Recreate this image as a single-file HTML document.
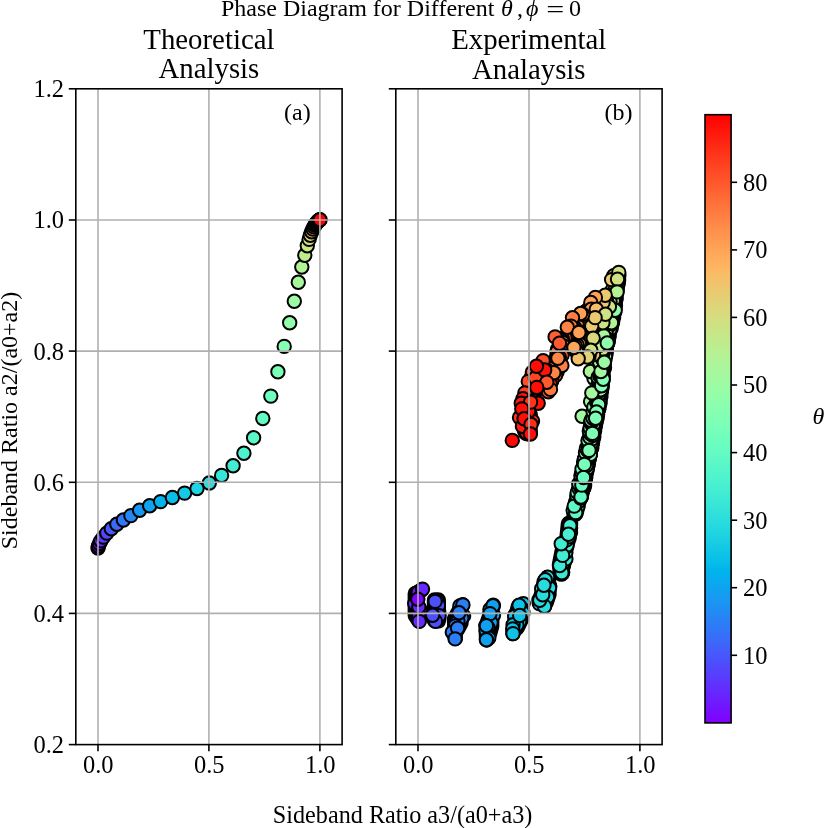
<!DOCTYPE html>
<html><head><meta charset="utf-8"><title>Phase Diagram</title>
<style>
html,body{margin:0;padding:0;background:#fff;}
body{width:825px;height:828px;overflow:hidden;}
svg{display:block;font-family:"Liberation Serif","DejaVu Serif",serif;fill:#000;}
.mk circle{stroke:#000;stroke-width:2;}
.ul{fill:none;stroke:#000;stroke-linecap:round;stroke-linejoin:round;}
.grid line{stroke:#b0b0b0;stroke-width:1.6;}
.tk line{stroke:#000;stroke-width:1.6;}
.sp{fill:none;stroke:#000;stroke-width:1.6;}
.t24{font-size:24px;}
.t28{font-size:28.8px;}
</style></head><body>
<svg width="825" height="828" viewBox="0 0 825 828">
<defs>
<linearGradient id="cb" x1="0" y1="0" x2="0" y2="1">
<stop offset="0.0000" stop-color="#ff0000"/>
<stop offset="0.0167" stop-color="#ff0d07"/>
<stop offset="0.0333" stop-color="#ff1b0d"/>
<stop offset="0.0500" stop-color="#ff2814"/>
<stop offset="0.0667" stop-color="#ff351b"/>
<stop offset="0.0833" stop-color="#ff4221"/>
<stop offset="0.1000" stop-color="#ff4f28"/>
<stop offset="0.1167" stop-color="#ff5b2e"/>
<stop offset="0.1333" stop-color="#ff6835"/>
<stop offset="0.1500" stop-color="#ff743c"/>
<stop offset="0.1667" stop-color="#ff7f42"/>
<stop offset="0.1833" stop-color="#ff8b48"/>
<stop offset="0.2000" stop-color="#ff964f"/>
<stop offset="0.2167" stop-color="#ffa055"/>
<stop offset="0.2333" stop-color="#ffab5b"/>
<stop offset="0.2500" stop-color="#ffb462"/>
<stop offset="0.2667" stop-color="#f6be68"/>
<stop offset="0.2833" stop-color="#eec66e"/>
<stop offset="0.3000" stop-color="#e5ce74"/>
<stop offset="0.3167" stop-color="#ddd67a"/>
<stop offset="0.3333" stop-color="#d5dd7f"/>
<stop offset="0.3500" stop-color="#cce385"/>
<stop offset="0.3667" stop-color="#c3e98b"/>
<stop offset="0.3833" stop-color="#bbee90"/>
<stop offset="0.4000" stop-color="#b2f396"/>
<stop offset="0.4167" stop-color="#aaf69b"/>
<stop offset="0.4333" stop-color="#a2f9a0"/>
<stop offset="0.4500" stop-color="#99fca6"/>
<stop offset="0.4667" stop-color="#90feab"/>
<stop offset="0.4833" stop-color="#88ffb0"/>
<stop offset="0.5000" stop-color="#80ffb4"/>
<stop offset="0.5167" stop-color="#77ffb9"/>
<stop offset="0.5333" stop-color="#6efebe"/>
<stop offset="0.5500" stop-color="#66fcc2"/>
<stop offset="0.5667" stop-color="#5ef9c6"/>
<stop offset="0.5833" stop-color="#55f6ca"/>
<stop offset="0.6000" stop-color="#4df3ce"/>
<stop offset="0.6167" stop-color="#44eed2"/>
<stop offset="0.6333" stop-color="#3be9d6"/>
<stop offset="0.6500" stop-color="#33e3d9"/>
<stop offset="0.6667" stop-color="#2bdddd"/>
<stop offset="0.6833" stop-color="#22d6e0"/>
<stop offset="0.7000" stop-color="#1acee3"/>
<stop offset="0.7167" stop-color="#11c6e6"/>
<stop offset="0.7333" stop-color="#09bee9"/>
<stop offset="0.7500" stop-color="#00b4ec"/>
<stop offset="0.7667" stop-color="#09abee"/>
<stop offset="0.7833" stop-color="#11a0f0"/>
<stop offset="0.8000" stop-color="#1a96f3"/>
<stop offset="0.8167" stop-color="#228bf4"/>
<stop offset="0.8333" stop-color="#2b7ff6"/>
<stop offset="0.8500" stop-color="#3374f8"/>
<stop offset="0.8667" stop-color="#3c68f9"/>
<stop offset="0.8833" stop-color="#445bfb"/>
<stop offset="0.9000" stop-color="#4d4ffc"/>
<stop offset="0.9167" stop-color="#5542fd"/>
<stop offset="0.9333" stop-color="#5e35fe"/>
<stop offset="0.9500" stop-color="#6628fe"/>
<stop offset="0.9667" stop-color="#6e1bff"/>
<stop offset="0.9833" stop-color="#770dff"/>
<stop offset="1.0000" stop-color="#8000ff"/>
</linearGradient>
<clipPath id="c1"><rect x="75.8" y="88.8" width="266.3" height="655.8"/></clipPath>
<clipPath id="c2"><rect x="395.8" y="88.8" width="266.3" height="655.8"/></clipPath>
</defs>
<rect width="825" height="828" fill="#fff"/>
<g class="mk" clip-path="url(#c1)">
<circle cx="98.0" cy="548.0" r="6.7" fill="#8000ff"/>
<circle cx="98.5" cy="546.0" r="6.7" fill="#8000ff"/>
<circle cx="99.5" cy="543.5" r="6.7" fill="#7412ff"/>
<circle cx="100.9" cy="540.7" r="6.7" fill="#6923fe"/>
<circle cx="103.4" cy="537.1" r="6.7" fill="#5e35fe"/>
<circle cx="106.8" cy="533.1" r="6.7" fill="#5246fd"/>
<circle cx="111.3" cy="528.8" r="6.7" fill="#4757fb"/>
<circle cx="116.8" cy="524.3" r="6.7" fill="#3c68f9"/>
<circle cx="123.4" cy="520.0" r="6.7" fill="#3078f7"/>
<circle cx="130.9" cy="515.6" r="6.7" fill="#2587f5"/>
<circle cx="139.6" cy="510.3" r="6.7" fill="#1996f3"/>
<circle cx="149.7" cy="505.8" r="6.7" fill="#0ea4f0"/>
<circle cx="160.6" cy="501.6" r="6.7" fill="#03b1ec"/>
<circle cx="172.4" cy="497.5" r="6.7" fill="#08bee9"/>
<circle cx="184.6" cy="493.1" r="6.7" fill="#14c9e5"/>
<circle cx="197.0" cy="488.5" r="6.7" fill="#1fd3e1"/>
<circle cx="209.3" cy="483.0" r="6.7" fill="#2adddd"/>
<circle cx="221.6" cy="475.4" r="6.7" fill="#36e5d8"/>
<circle cx="233.1" cy="465.8" r="6.7" fill="#41ecd3"/>
<circle cx="243.9" cy="453.3" r="6.7" fill="#4df3ce"/>
<circle cx="253.6" cy="437.8" r="6.7" fill="#58f7c9"/>
<circle cx="262.8" cy="418.5" r="6.7" fill="#63fbc3"/>
<circle cx="270.8" cy="396.1" r="6.7" fill="#6efebe"/>
<circle cx="277.9" cy="371.8" r="6.7" fill="#7affb7"/>
<circle cx="284.2" cy="346.4" r="6.7" fill="#85ffb1"/>
<circle cx="289.7" cy="322.8" r="6.7" fill="#90feab"/>
<circle cx="294.3" cy="301.2" r="6.7" fill="#9cfba4"/>
<circle cx="298.3" cy="282.3" r="6.7" fill="#a7f79d"/>
<circle cx="301.8" cy="267.0" r="6.7" fill="#b2f396"/>
<circle cx="304.8" cy="255.2" r="6.7" fill="#beec8f"/>
<circle cx="307.3" cy="245.8" r="6.7" fill="#c9e587"/>
<circle cx="309.1" cy="239.4" r="6.7" fill="#d4dd80"/>
<circle cx="310.3" cy="235.2" r="6.7" fill="#e0d378"/>
<circle cx="311.7" cy="231.7" r="6.7" fill="#ebc970"/>
<circle cx="312.9" cy="229.0" r="6.7" fill="#f6be68"/>
<circle cx="314.0" cy="226.9" r="6.7" fill="#ffb160"/>
<circle cx="315.0" cy="225.2" r="6.7" fill="#ffa457"/>
<circle cx="315.8" cy="223.9" r="6.7" fill="#ff964f"/>
<circle cx="316.5" cy="222.9" r="6.7" fill="#ff8746"/>
<circle cx="317.2" cy="222.1" r="6.7" fill="#ff783e"/>
<circle cx="317.8" cy="221.5" r="6.7" fill="#ff6835"/>
<circle cx="318.3" cy="221.0" r="6.7" fill="#ff572c"/>
<circle cx="318.7" cy="220.6" r="6.7" fill="#ff4623"/>
<circle cx="319.1" cy="220.3" r="6.7" fill="#ff351b"/>
<circle cx="319.4" cy="220.1" r="6.7" fill="#ff2312"/>
<circle cx="319.7" cy="219.9" r="6.7" fill="#ff1209"/>
<circle cx="320.0" cy="219.8" r="6.7" fill="#ff0000"/>
</g>
<g class="mk" clip-path="url(#c2)">
<polyline class="ul" points="415.3,593.5 415.3,615.5 419.0,621.0" stroke-width="15.4"/>
<polyline class="ul" points="416.0,594.0 421.5,590.0" stroke-width="15.4"/>
<polyline class="ul" points="434.5,600.0 434.5,620.5 438.3,620.9 438.3,600.0 434.5,600.0" stroke-width="15.4"/>
<polyline class="ul" points="462.5,604.8 454.5,619.0 455.3,638.3" stroke-width="15.4"/>
<polyline class="ul" points="461.0,613.0 461.0,623.0 457.8,628.6" stroke-width="15.4"/>
<polyline class="ul" points="493.4,605.3 486.2,626.0 486.6,640.0" stroke-width="15.4"/>
<polyline class="ul" points="491.7,615.0 491.7,626.0 489.5,634.0" stroke-width="15.4"/>
<polyline class="ul" points="518.5,606.0 515.3,618.5 513.0,633.6" stroke-width="15.4"/>
<polyline class="ul" points="520.0,606.0 521.7,618.5 517.0,628.0" stroke-width="15.4"/>
<polyline class="ul" points="547.6,577.5 543.9,585.2 540.5,598.0 544.5,606.4" stroke-width="15.4"/>
<polyline class="ul" points="548.4,580.0 549.0,594.0 546.0,603.0" stroke-width="15.4"/>
<polyline class="ul" points="561.5,573.0 560.5,565.0 563.5,550.0 568.0,538.0 569.5,524.0" stroke-width="17.5"/>
<polyline class="ul" points="575.0,513.5 578.5,497.4 583.5,485.0" stroke-width="17.5"/>
<polyline class="ul" points="539.0,370.0 528.5,401.0 525.0,417.0 527.5,431.0" stroke-width="21.0"/>
<circle cx="418.5" cy="610.5" r="6.7" fill="#6824fe"/>
<circle cx="420.6" cy="610.5" r="6.7" fill="#6727fe"/>
<circle cx="414.7" cy="603.6" r="6.7" fill="#6727fe"/>
<circle cx="418.7" cy="614.5" r="6.7" fill="#7018ff"/>
<circle cx="417.5" cy="598.2" r="6.7" fill="#6b20ff"/>
<circle cx="418.2" cy="592.3" r="6.7" fill="#6f1aff"/>
<circle cx="434.0" cy="619.2" r="6.7" fill="#4b51fc"/>
<circle cx="433.1" cy="616.7" r="6.7" fill="#4f4cfc"/>
<circle cx="436.3" cy="602.7" r="6.7" fill="#4f4bfc"/>
<circle cx="438.1" cy="604.4" r="6.7" fill="#4e4cfc"/>
<circle cx="438.9" cy="618.3" r="6.7" fill="#4e4dfc"/>
<circle cx="438.7" cy="611.3" r="6.7" fill="#4b50fc"/>
<circle cx="459.9" cy="605.9" r="6.7" fill="#2981f6"/>
<circle cx="458.4" cy="612.8" r="6.7" fill="#2c7ef7"/>
<circle cx="463.6" cy="615.9" r="6.7" fill="#2d7df7"/>
<circle cx="461.8" cy="618.3" r="6.7" fill="#2a80f6"/>
<circle cx="457.9" cy="621.1" r="6.7" fill="#2b7ef6"/>
<circle cx="455.4" cy="625.9" r="6.7" fill="#2b7ff6"/>
<circle cx="456.9" cy="630.5" r="6.7" fill="#2981f6"/>
<circle cx="452.3" cy="632.3" r="6.7" fill="#2d7cf7"/>
<circle cx="489.9" cy="609.5" r="6.7" fill="#149df1"/>
<circle cx="491.8" cy="614.1" r="6.7" fill="#11a1f0"/>
<circle cx="493.5" cy="615.3" r="6.7" fill="#139ef1"/>
<circle cx="491.1" cy="622.7" r="6.7" fill="#10a2f0"/>
<circle cx="485.9" cy="625.6" r="6.7" fill="#129ff1"/>
<circle cx="488.0" cy="627.7" r="6.7" fill="#0fa2f0"/>
<circle cx="486.1" cy="630.4" r="6.7" fill="#0fa3f0"/>
<circle cx="488.8" cy="638.0" r="6.7" fill="#0ea4f0"/>
<circle cx="523.2" cy="603.6" r="6.7" fill="#0fc4e7"/>
<circle cx="521.9" cy="608.7" r="6.7" fill="#11c6e6"/>
<circle cx="521.7" cy="610.5" r="6.7" fill="#0dc2e7"/>
<circle cx="523.0" cy="612.7" r="6.7" fill="#0cc1e8"/>
<circle cx="514.9" cy="615.2" r="6.7" fill="#0cc1e8"/>
<circle cx="514.7" cy="616.2" r="6.7" fill="#0ec4e7"/>
<circle cx="519.6" cy="621.4" r="6.7" fill="#0fc4e7"/>
<circle cx="516.9" cy="625.0" r="6.7" fill="#0ec3e7"/>
<circle cx="513.1" cy="624.7" r="6.7" fill="#0cc1e8"/>
<circle cx="512.7" cy="628.9" r="6.7" fill="#0cc1e8"/>
<circle cx="544.0" cy="581.9" r="6.7" fill="#28dbde"/>
<circle cx="549.8" cy="586.3" r="6.7" fill="#27dade"/>
<circle cx="543.8" cy="585.6" r="6.7" fill="#27dade"/>
<circle cx="541.7" cy="588.6" r="6.7" fill="#2adcdd"/>
<circle cx="544.9" cy="593.5" r="6.7" fill="#28dbde"/>
<circle cx="544.2" cy="595.4" r="6.7" fill="#26dade"/>
<circle cx="546.2" cy="597.8" r="6.7" fill="#27dade"/>
<circle cx="538.9" cy="600.0" r="6.7" fill="#28dbde"/>
<circle cx="543.3" cy="602.6" r="6.7" fill="#25d9df"/>
<circle cx="539.3" cy="603.6" r="6.7" fill="#2adcdd"/>
<circle cx="562.6" cy="572.1" r="6.7" fill="#3dead5"/>
<circle cx="562.9" cy="567.5" r="6.7" fill="#3eebd5"/>
<circle cx="563.5" cy="565.3" r="6.7" fill="#3ce9d6"/>
<circle cx="564.6" cy="561.6" r="6.7" fill="#3febd4"/>
<circle cx="565.9" cy="559.0" r="6.7" fill="#40ecd4"/>
<circle cx="562.2" cy="553.8" r="6.7" fill="#40ecd4"/>
<circle cx="565.9" cy="552.2" r="6.7" fill="#40ecd4"/>
<circle cx="566.7" cy="546.9" r="6.7" fill="#44eed2"/>
<circle cx="567.1" cy="545.1" r="6.7" fill="#44eed2"/>
<circle cx="566.6" cy="539.9" r="6.7" fill="#45efd2"/>
<circle cx="568.9" cy="536.7" r="6.7" fill="#47f0d1"/>
<circle cx="568.8" cy="532.9" r="6.7" fill="#45efd2"/>
<circle cx="570.5" cy="532.5" r="6.7" fill="#48f0d0"/>
<circle cx="570.6" cy="527.9" r="6.7" fill="#48f0d1"/>
<circle cx="573.2" cy="510.5" r="6.7" fill="#60fac5"/>
<circle cx="576.4" cy="509.0" r="6.7" fill="#5efac6"/>
<circle cx="577.9" cy="506.4" r="6.7" fill="#60fac5"/>
<circle cx="575.5" cy="502.1" r="6.7" fill="#5ef9c6"/>
<circle cx="579.1" cy="501.3" r="6.7" fill="#5efac6"/>
<circle cx="580.3" cy="497.9" r="6.7" fill="#5efac6"/>
<circle cx="579.2" cy="495.1" r="6.7" fill="#5ffac6"/>
<circle cx="580.3" cy="493.4" r="6.7" fill="#60fac5"/>
<circle cx="580.0" cy="490.1" r="6.7" fill="#62fbc4"/>
<circle cx="583.9" cy="487.9" r="6.7" fill="#63fbc3"/>
<circle cx="582.1" cy="416.2" r="6.7" fill="#a2f9a0"/>
<circle cx="590.6" cy="401.5" r="6.7" fill="#a2f9a0"/>
<circle cx="594.0" cy="378.5" r="6.7" fill="#a7f79d"/>
<circle cx="590.3" cy="371.5" r="6.7" fill="#adf599"/>
<circle cx="581.3" cy="497.3" r="6.7" fill="#5ef9c6"/>
<circle cx="580.7" cy="495.6" r="6.7" fill="#63fbc3"/>
<circle cx="581.7" cy="494.8" r="6.7" fill="#63fbc3"/>
<circle cx="581.7" cy="493.5" r="6.7" fill="#60fac5"/>
<circle cx="581.7" cy="491.5" r="6.7" fill="#66fcc2"/>
<circle cx="582.8" cy="489.8" r="6.7" fill="#65fcc2"/>
<circle cx="582.8" cy="488.6" r="6.7" fill="#65fcc2"/>
<circle cx="582.8" cy="488.1" r="6.7" fill="#68fcc1"/>
<circle cx="583.9" cy="485.9" r="6.7" fill="#69fdc0"/>
<circle cx="583.9" cy="485.3" r="6.7" fill="#62fbc4"/>
<circle cx="583.6" cy="484.2" r="6.7" fill="#6afdc0"/>
<circle cx="584.0" cy="482.9" r="6.7" fill="#6efdbe"/>
<circle cx="584.1" cy="481.2" r="6.7" fill="#67fcc2"/>
<circle cx="585.1" cy="480.2" r="6.7" fill="#69fdc0"/>
<circle cx="585.5" cy="478.0" r="6.7" fill="#6cfdbf"/>
<circle cx="585.7" cy="477.6" r="6.7" fill="#6bfdbf"/>
<circle cx="585.1" cy="475.9" r="6.7" fill="#72febc"/>
<circle cx="585.4" cy="474.5" r="6.7" fill="#6dfdbe"/>
<circle cx="586.0" cy="473.7" r="6.7" fill="#6dfdbe"/>
<circle cx="586.6" cy="472.3" r="6.7" fill="#72febb"/>
<circle cx="586.4" cy="471.2" r="6.7" fill="#6dfdbe"/>
<circle cx="587.3" cy="468.8" r="6.7" fill="#6efebe"/>
<circle cx="586.6" cy="468.2" r="6.7" fill="#77ffb9"/>
<circle cx="587.5" cy="467.0" r="6.7" fill="#72febc"/>
<circle cx="587.9" cy="465.2" r="6.7" fill="#76ffb9"/>
<circle cx="588.2" cy="464.6" r="6.7" fill="#71febc"/>
<circle cx="588.1" cy="462.6" r="6.7" fill="#73febb"/>
<circle cx="588.5" cy="461.3" r="6.7" fill="#74feba"/>
<circle cx="589.0" cy="459.8" r="6.7" fill="#72febc"/>
<circle cx="589.0" cy="459.1" r="6.7" fill="#7cffb6"/>
<circle cx="589.6" cy="457.0" r="6.7" fill="#73febb"/>
<circle cx="589.7" cy="455.8" r="6.7" fill="#7affb7"/>
<circle cx="590.2" cy="454.5" r="6.7" fill="#7affb7"/>
<circle cx="590.1" cy="452.9" r="6.7" fill="#79ffb8"/>
<circle cx="590.1" cy="451.6" r="6.7" fill="#79ffb8"/>
<circle cx="590.2" cy="450.3" r="6.7" fill="#7fffb4"/>
<circle cx="590.9" cy="449.2" r="6.7" fill="#79ffb8"/>
<circle cx="591.8" cy="447.9" r="6.7" fill="#78ffb8"/>
<circle cx="591.4" cy="446.9" r="6.7" fill="#7dffb6"/>
<circle cx="591.1" cy="445.7" r="6.7" fill="#7effb5"/>
<circle cx="591.3" cy="443.8" r="6.7" fill="#7bffb7"/>
<circle cx="592.5" cy="442.6" r="6.7" fill="#80ffb4"/>
<circle cx="592.5" cy="442.3" r="6.7" fill="#84ffb2"/>
<circle cx="592.9" cy="439.8" r="6.7" fill="#7affb7"/>
<circle cx="592.4" cy="438.5" r="6.7" fill="#81ffb3"/>
<circle cx="593.4" cy="437.2" r="6.7" fill="#7cffb6"/>
<circle cx="593.8" cy="436.8" r="6.7" fill="#7cffb6"/>
<circle cx="593.4" cy="434.9" r="6.7" fill="#7cffb6"/>
<circle cx="593.1" cy="433.5" r="6.7" fill="#7cffb6"/>
<circle cx="593.4" cy="432.5" r="6.7" fill="#7bffb7"/>
<circle cx="594.6" cy="431.0" r="6.7" fill="#85ffb1"/>
<circle cx="594.3" cy="430.2" r="6.7" fill="#7fffb5"/>
<circle cx="594.7" cy="428.3" r="6.7" fill="#86ffb1"/>
<circle cx="594.3" cy="427.1" r="6.7" fill="#83ffb2"/>
<circle cx="595.3" cy="426.3" r="6.7" fill="#81ffb3"/>
<circle cx="595.6" cy="423.9" r="6.7" fill="#83ffb2"/>
<circle cx="595.7" cy="423.4" r="6.7" fill="#7fffb5"/>
<circle cx="596.0" cy="421.4" r="6.7" fill="#7effb5"/>
<circle cx="595.9" cy="420.7" r="6.7" fill="#85ffb1"/>
<circle cx="596.7" cy="419.6" r="6.7" fill="#84ffb2"/>
<circle cx="596.8" cy="418.4" r="6.7" fill="#7effb5"/>
<circle cx="597.0" cy="417.0" r="6.7" fill="#80ffb4"/>
<circle cx="597.3" cy="414.6" r="6.7" fill="#81ffb3"/>
<circle cx="597.0" cy="413.3" r="6.7" fill="#86ffb1"/>
<circle cx="597.2" cy="413.0" r="6.7" fill="#89ffaf"/>
<circle cx="597.8" cy="410.8" r="6.7" fill="#80ffb4"/>
<circle cx="598.7" cy="409.2" r="6.7" fill="#88ffaf"/>
<circle cx="598.7" cy="409.0" r="6.7" fill="#83ffb2"/>
<circle cx="598.6" cy="407.4" r="6.7" fill="#86ffb1"/>
<circle cx="599.0" cy="405.8" r="6.7" fill="#81ffb3"/>
<circle cx="599.6" cy="403.9" r="6.7" fill="#89ffaf"/>
<circle cx="600.0" cy="403.1" r="6.7" fill="#86ffb1"/>
<circle cx="599.8" cy="401.5" r="6.7" fill="#89ffaf"/>
<circle cx="599.3" cy="400.4" r="6.7" fill="#82ffb3"/>
<circle cx="599.3" cy="399.3" r="6.7" fill="#8cfeae"/>
<circle cx="600.5" cy="397.7" r="6.7" fill="#82ffb3"/>
<circle cx="600.9" cy="396.4" r="6.7" fill="#89ffaf"/>
<circle cx="600.4" cy="395.0" r="6.7" fill="#84ffb2"/>
<circle cx="600.1" cy="394.0" r="6.7" fill="#87ffb0"/>
<circle cx="601.3" cy="392.5" r="6.7" fill="#85ffb1"/>
<circle cx="600.6" cy="391.2" r="6.7" fill="#86ffb1"/>
<circle cx="600.8" cy="389.9" r="6.7" fill="#8affaf"/>
<circle cx="601.8" cy="389.0" r="6.7" fill="#89ffaf"/>
<circle cx="601.8" cy="386.4" r="6.7" fill="#8dfead"/>
<circle cx="602.3" cy="385.7" r="6.7" fill="#87ffb0"/>
<circle cx="601.6" cy="383.9" r="6.7" fill="#8dfeac"/>
<circle cx="601.6" cy="382.4" r="6.7" fill="#88ffaf"/>
<circle cx="601.7" cy="382.0" r="6.7" fill="#87ffb0"/>
<circle cx="603.0" cy="380.2" r="6.7" fill="#8bfeae"/>
<circle cx="602.4" cy="378.8" r="6.7" fill="#8afeae"/>
<circle cx="603.0" cy="376.9" r="6.7" fill="#89ffaf"/>
<circle cx="603.1" cy="376.2" r="6.7" fill="#92fdaa"/>
<circle cx="603.0" cy="374.2" r="6.7" fill="#93fda9"/>
<circle cx="602.5" cy="373.6" r="6.7" fill="#91feab"/>
<circle cx="602.7" cy="371.7" r="6.7" fill="#8efeac"/>
<circle cx="603.6" cy="369.6" r="6.7" fill="#8cfead"/>
<circle cx="603.0" cy="369.4" r="6.7" fill="#93fda9"/>
<circle cx="604.5" cy="367.7" r="6.7" fill="#89ffaf"/>
<circle cx="603.4" cy="366.5" r="6.7" fill="#8dfeac"/>
<circle cx="603.8" cy="365.5" r="6.7" fill="#8efeac"/>
<circle cx="603.7" cy="363.8" r="6.7" fill="#8affaf"/>
<circle cx="604.2" cy="361.6" r="6.7" fill="#8ffeab"/>
<circle cx="604.7" cy="361.1" r="6.7" fill="#8bfeae"/>
<circle cx="604.3" cy="359.8" r="6.7" fill="#90feab"/>
<circle cx="605.2" cy="357.7" r="6.7" fill="#94fda9"/>
<circle cx="604.5" cy="357.2" r="6.7" fill="#90feab"/>
<circle cx="605.5" cy="355.6" r="6.7" fill="#8ffeac"/>
<circle cx="605.9" cy="354.2" r="6.7" fill="#95fda8"/>
<circle cx="605.6" cy="353.2" r="6.7" fill="#94fda9"/>
<circle cx="605.3" cy="352.0" r="6.7" fill="#8efeac"/>
<circle cx="606.4" cy="351.0" r="6.7" fill="#94fda8"/>
<circle cx="605.8" cy="349.2" r="6.7" fill="#8cfead"/>
<circle cx="606.0" cy="347.9" r="6.7" fill="#90feab"/>
<circle cx="606.6" cy="346.1" r="6.7" fill="#8cfead"/>
<circle cx="606.6" cy="344.6" r="6.7" fill="#8efeac"/>
<circle cx="607.2" cy="343.9" r="6.7" fill="#8dfead"/>
<circle cx="607.4" cy="342.3" r="6.7" fill="#95fda8"/>
<circle cx="608.4" cy="340.9" r="6.7" fill="#94fda9"/>
<circle cx="608.3" cy="339.2" r="6.7" fill="#92fdaa"/>
<circle cx="608.7" cy="337.8" r="6.7" fill="#98fca6"/>
<circle cx="609.0" cy="336.6" r="6.7" fill="#90feab"/>
<circle cx="608.8" cy="335.0" r="6.7" fill="#8ffeac"/>
<circle cx="608.6" cy="334.6" r="6.7" fill="#90feab"/>
<circle cx="609.2" cy="332.5" r="6.7" fill="#8ffeac"/>
<circle cx="609.9" cy="331.1" r="6.7" fill="#8ffeac"/>
<circle cx="609.5" cy="330.5" r="6.7" fill="#93fda9"/>
<circle cx="611.2" cy="328.2" r="6.7" fill="#96fda7"/>
<circle cx="610.6" cy="327.5" r="6.7" fill="#93fda9"/>
<circle cx="610.5" cy="325.8" r="6.7" fill="#96fca7"/>
<circle cx="612.0" cy="323.9" r="6.7" fill="#92fdaa"/>
<circle cx="611.4" cy="322.7" r="6.7" fill="#99fca6"/>
<circle cx="612.7" cy="321.7" r="6.7" fill="#9afca5"/>
<circle cx="612.1" cy="320.7" r="6.7" fill="#9cfba4"/>
<circle cx="612.6" cy="318.9" r="6.7" fill="#97fca7"/>
<circle cx="613.6" cy="317.4" r="6.7" fill="#99fca5"/>
<circle cx="613.5" cy="315.7" r="6.7" fill="#95fda8"/>
<circle cx="613.5" cy="314.6" r="6.7" fill="#95fda8"/>
<circle cx="613.3" cy="313.0" r="6.7" fill="#9cfba4"/>
<circle cx="614.6" cy="312.5" r="6.7" fill="#9afca5"/>
<circle cx="613.9" cy="311.4" r="6.7" fill="#98fca6"/>
<circle cx="614.4" cy="309.4" r="6.7" fill="#a0faa2"/>
<circle cx="614.5" cy="308.5" r="6.7" fill="#9bfba4"/>
<circle cx="615.4" cy="306.1" r="6.7" fill="#a5f89e"/>
<circle cx="614.9" cy="305.2" r="6.7" fill="#9efaa3"/>
<circle cx="615.1" cy="303.5" r="6.7" fill="#9ffaa2"/>
<circle cx="614.6" cy="303.0" r="6.7" fill="#a7f79d"/>
<circle cx="615.0" cy="300.6" r="6.7" fill="#abf69a"/>
<circle cx="615.8" cy="300.1" r="6.7" fill="#adf59a"/>
<circle cx="616.1" cy="298.3" r="6.7" fill="#a9f79c"/>
<circle cx="615.8" cy="297.8" r="6.7" fill="#adf59a"/>
<circle cx="615.7" cy="296.1" r="6.7" fill="#acf69a"/>
<circle cx="615.8" cy="294.9" r="6.7" fill="#aef599"/>
<circle cx="616.5" cy="293.0" r="6.7" fill="#b0f397"/>
<circle cx="616.9" cy="291.0" r="6.7" fill="#b9ef91"/>
<circle cx="616.8" cy="290.0" r="6.7" fill="#b7f093"/>
<circle cx="616.6" cy="288.4" r="6.7" fill="#baef91"/>
<circle cx="617.0" cy="287.2" r="6.7" fill="#b8f092"/>
<circle cx="616.5" cy="286.6" r="6.7" fill="#baef91"/>
<circle cx="617.7" cy="284.6" r="6.7" fill="#c1ea8c"/>
<circle cx="618.1" cy="283.7" r="6.7" fill="#beed8f"/>
<circle cx="617.2" cy="281.6" r="6.7" fill="#c6e789"/>
<circle cx="618.6" cy="280.4" r="6.7" fill="#cae587"/>
<circle cx="618.6" cy="279.0" r="6.7" fill="#cae486"/>
<circle cx="617.9" cy="277.6" r="6.7" fill="#cae587"/>
<circle cx="618.2" cy="275.8" r="6.7" fill="#d2df81"/>
<circle cx="618.5" cy="274.9" r="6.7" fill="#c8e688"/>
<circle cx="576.8" cy="495.9" r="6.7" fill="#65fcc2"/>
<circle cx="581.4" cy="494.2" r="6.7" fill="#66fcc2"/>
<circle cx="577.2" cy="492.4" r="6.7" fill="#67fcc1"/>
<circle cx="580.9" cy="491.0" r="6.7" fill="#64fbc3"/>
<circle cx="578.7" cy="488.1" r="6.7" fill="#64fbc3"/>
<circle cx="581.1" cy="487.9" r="6.7" fill="#6bfdbf"/>
<circle cx="581.5" cy="486.4" r="6.7" fill="#6bfdc0"/>
<circle cx="578.8" cy="483.8" r="6.7" fill="#69fdc0"/>
<circle cx="583.9" cy="482.0" r="6.7" fill="#6cfdbf"/>
<circle cx="581.6" cy="480.4" r="6.7" fill="#6afdc0"/>
<circle cx="581.5" cy="477.7" r="6.7" fill="#68fcc1"/>
<circle cx="585.4" cy="477.2" r="6.7" fill="#68fcc1"/>
<circle cx="580.9" cy="475.5" r="6.7" fill="#6cfdbf"/>
<circle cx="581.9" cy="472.8" r="6.7" fill="#6afdc0"/>
<circle cx="584.8" cy="471.6" r="6.7" fill="#71febc"/>
<circle cx="582.0" cy="468.9" r="6.7" fill="#70febd"/>
<circle cx="587.4" cy="468.1" r="6.7" fill="#6ffebd"/>
<circle cx="586.0" cy="465.9" r="6.7" fill="#77ffb9"/>
<circle cx="586.5" cy="465.3" r="6.7" fill="#77ffb9"/>
<circle cx="583.7" cy="462.4" r="6.7" fill="#71febc"/>
<circle cx="583.9" cy="461.2" r="6.7" fill="#71febc"/>
<circle cx="584.5" cy="458.7" r="6.7" fill="#7affb7"/>
<circle cx="588.8" cy="457.6" r="6.7" fill="#7cffb6"/>
<circle cx="589.8" cy="456.0" r="6.7" fill="#7fffb5"/>
<circle cx="590.4" cy="454.4" r="6.7" fill="#76ffba"/>
<circle cx="585.5" cy="452.7" r="6.7" fill="#77ffb9"/>
<circle cx="588.1" cy="450.9" r="6.7" fill="#7dffb6"/>
<circle cx="586.4" cy="448.2" r="6.7" fill="#7bffb7"/>
<circle cx="588.3" cy="447.2" r="6.7" fill="#78ffb8"/>
<circle cx="588.6" cy="445.4" r="6.7" fill="#7fffb5"/>
<circle cx="592.1" cy="444.4" r="6.7" fill="#83ffb3"/>
<circle cx="591.2" cy="443.2" r="6.7" fill="#80ffb4"/>
<circle cx="588.0" cy="440.5" r="6.7" fill="#7effb5"/>
<circle cx="591.7" cy="439.3" r="6.7" fill="#84ffb2"/>
<circle cx="589.6" cy="437.1" r="6.7" fill="#80ffb4"/>
<circle cx="592.8" cy="435.2" r="6.7" fill="#81ffb4"/>
<circle cx="590.5" cy="433.7" r="6.7" fill="#84ffb2"/>
<circle cx="589.3" cy="431.1" r="6.7" fill="#80ffb4"/>
<circle cx="592.9" cy="430.5" r="6.7" fill="#7cffb6"/>
<circle cx="590.1" cy="428.0" r="6.7" fill="#81ffb4"/>
<circle cx="593.2" cy="425.3" r="6.7" fill="#80ffb4"/>
<circle cx="591.0" cy="423.2" r="6.7" fill="#80ffb4"/>
<circle cx="590.8" cy="421.5" r="6.7" fill="#85ffb1"/>
<circle cx="591.1" cy="420.5" r="6.7" fill="#7fffb5"/>
<circle cx="593.5" cy="418.9" r="6.7" fill="#82ffb3"/>
<circle cx="592.8" cy="417.6" r="6.7" fill="#88ffb0"/>
<circle cx="594.7" cy="415.5" r="6.7" fill="#7effb5"/>
<circle cx="597.6" cy="414.6" r="6.7" fill="#85ffb1"/>
<circle cx="593.1" cy="411.5" r="6.7" fill="#83ffb3"/>
<circle cx="595.6" cy="409.7" r="6.7" fill="#85ffb1"/>
<circle cx="597.2" cy="408.0" r="6.7" fill="#86ffb1"/>
<circle cx="593.8" cy="407.1" r="6.7" fill="#88ffb0"/>
<circle cx="599.0" cy="405.5" r="6.7" fill="#89ffaf"/>
<circle cx="596.6" cy="402.4" r="6.7" fill="#8cfead"/>
<circle cx="599.6" cy="401.3" r="6.7" fill="#83ffb3"/>
<circle cx="597.2" cy="399.1" r="6.7" fill="#8cfead"/>
<circle cx="596.4" cy="396.7" r="6.7" fill="#87ffb0"/>
<circle cx="597.8" cy="396.4" r="6.7" fill="#85ffb1"/>
<circle cx="596.2" cy="393.6" r="6.7" fill="#85ffb1"/>
<circle cx="596.1" cy="392.1" r="6.7" fill="#88ffb0"/>
<circle cx="601.0" cy="390.1" r="6.7" fill="#86ffb0"/>
<circle cx="600.7" cy="389.8" r="6.7" fill="#8ffeab"/>
<circle cx="597.2" cy="386.5" r="6.7" fill="#88ffb0"/>
<circle cx="601.9" cy="384.7" r="6.7" fill="#86ffb1"/>
<circle cx="599.2" cy="383.9" r="6.7" fill="#89ffaf"/>
<circle cx="599.2" cy="381.1" r="6.7" fill="#8ffeac"/>
<circle cx="600.1" cy="380.5" r="6.7" fill="#91fdaa"/>
<circle cx="598.0" cy="377.5" r="6.7" fill="#88ffaf"/>
<circle cx="599.8" cy="376.0" r="6.7" fill="#8bfeae"/>
<circle cx="601.1" cy="374.7" r="6.7" fill="#92fdaa"/>
<circle cx="601.2" cy="373.4" r="6.7" fill="#8bfeae"/>
<circle cx="602.4" cy="371.2" r="6.7" fill="#8affaf"/>
<circle cx="602.5" cy="369.4" r="6.7" fill="#88ffaf"/>
<circle cx="601.2" cy="366.9" r="6.7" fill="#8efeac"/>
<circle cx="603.4" cy="365.6" r="6.7" fill="#8affaf"/>
<circle cx="599.5" cy="363.5" r="6.7" fill="#8efeac"/>
<circle cx="599.6" cy="361.9" r="6.7" fill="#8dfead"/>
<circle cx="603.3" cy="360.4" r="6.7" fill="#94fda8"/>
<circle cx="602.8" cy="358.6" r="6.7" fill="#92fdaa"/>
<circle cx="605.5" cy="356.1" r="6.7" fill="#95fda8"/>
<circle cx="601.3" cy="354.9" r="6.7" fill="#95fda8"/>
<circle cx="603.0" cy="353.6" r="6.7" fill="#93fda9"/>
<circle cx="603.1" cy="351.0" r="6.7" fill="#95fda8"/>
<circle cx="604.2" cy="349.8" r="6.7" fill="#95fda8"/>
<circle cx="603.4" cy="348.2" r="6.7" fill="#91feaa"/>
<circle cx="603.0" cy="345.5" r="6.7" fill="#91feaa"/>
<circle cx="602.5" cy="344.6" r="6.7" fill="#90feab"/>
<circle cx="607.7" cy="343.6" r="6.7" fill="#8ffeab"/>
<circle cx="607.1" cy="341.4" r="6.7" fill="#95fda8"/>
<circle cx="607.6" cy="339.8" r="6.7" fill="#94fda9"/>
<circle cx="606.9" cy="337.6" r="6.7" fill="#90feab"/>
<circle cx="608.5" cy="336.4" r="6.7" fill="#92fdaa"/>
<circle cx="605.2" cy="332.8" r="6.7" fill="#8ffeab"/>
<circle cx="608.3" cy="333.2" r="6.7" fill="#94fda9"/>
<circle cx="604.9" cy="330.7" r="6.7" fill="#97fca7"/>
<circle cx="610.1" cy="329.3" r="6.7" fill="#8ffeab"/>
<circle cx="606.4" cy="326.5" r="6.7" fill="#98fca6"/>
<circle cx="609.5" cy="325.5" r="6.7" fill="#92fdaa"/>
<circle cx="607.4" cy="322.6" r="6.7" fill="#91fdaa"/>
<circle cx="607.5" cy="321.3" r="6.7" fill="#92fdaa"/>
<circle cx="610.9" cy="320.5" r="6.7" fill="#9cfba4"/>
<circle cx="608.2" cy="317.5" r="6.7" fill="#9afca5"/>
<circle cx="608.9" cy="315.4" r="6.7" fill="#9cfba4"/>
<circle cx="610.0" cy="314.9" r="6.7" fill="#94fda9"/>
<circle cx="611.8" cy="312.3" r="6.7" fill="#9ffaa2"/>
<circle cx="610.1" cy="310.6" r="6.7" fill="#98fca6"/>
<circle cx="614.7" cy="309.8" r="6.7" fill="#99fca6"/>
<circle cx="611.6" cy="308.0" r="6.7" fill="#9afca5"/>
<circle cx="613.3" cy="305.7" r="6.7" fill="#a3f9a0"/>
<circle cx="610.8" cy="304.1" r="6.7" fill="#a3f9a0"/>
<circle cx="612.7" cy="301.5" r="6.7" fill="#a7f79d"/>
<circle cx="611.3" cy="299.2" r="6.7" fill="#a7f89d"/>
<circle cx="613.6" cy="298.3" r="6.7" fill="#aff498"/>
<circle cx="614.5" cy="296.5" r="6.7" fill="#acf59a"/>
<circle cx="615.7" cy="294.4" r="6.7" fill="#adf599"/>
<circle cx="612.5" cy="293.5" r="6.7" fill="#aff498"/>
<circle cx="612.9" cy="290.2" r="6.7" fill="#b6f193"/>
<circle cx="616.9" cy="289.4" r="6.7" fill="#b3f296"/>
<circle cx="613.8" cy="286.9" r="6.7" fill="#b6f194"/>
<circle cx="616.8" cy="285.7" r="6.7" fill="#beec8f"/>
<circle cx="617.6" cy="285.1" r="6.7" fill="#bded8f"/>
<circle cx="616.7" cy="282.0" r="6.7" fill="#c0eb8d"/>
<circle cx="614.7" cy="280.3" r="6.7" fill="#c0eb8d"/>
<circle cx="617.0" cy="279.5" r="6.7" fill="#c6e88a"/>
<circle cx="613.8" cy="275.7" r="6.7" fill="#c9e587"/>
<circle cx="618.8" cy="275.8" r="6.7" fill="#d0e083"/>
<circle cx="612.5" cy="289.6" r="6.7" fill="#abf69b"/>
<circle cx="614.1" cy="291.4" r="6.7" fill="#aaf69b"/>
<circle cx="613.0" cy="294.6" r="6.7" fill="#aef599"/>
<circle cx="608.1" cy="296.5" r="6.7" fill="#c2ea8c"/>
<circle cx="613.3" cy="300.3" r="6.7" fill="#bfeb8e"/>
<circle cx="610.0" cy="301.6" r="6.7" fill="#b1f397"/>
<circle cx="608.9" cy="307.0" r="6.7" fill="#bcee90"/>
<circle cx="608.7" cy="307.8" r="6.7" fill="#c8e688"/>
<circle cx="610.4" cy="311.5" r="6.7" fill="#c0eb8d"/>
<circle cx="608.4" cy="315.6" r="6.7" fill="#c5e88a"/>
<circle cx="608.2" cy="318.5" r="6.7" fill="#cae486"/>
<circle cx="609.2" cy="320.5" r="6.7" fill="#baef91"/>
<circle cx="606.2" cy="324.1" r="6.7" fill="#c5e88a"/>
<circle cx="604.9" cy="326.8" r="6.7" fill="#c8e688"/>
<circle cx="603.5" cy="327.6" r="6.7" fill="#c3e98b"/>
<circle cx="602.8" cy="331.0" r="6.7" fill="#cde385"/>
<circle cx="606.2" cy="333.6" r="6.7" fill="#d0e083"/>
<circle cx="606.1" cy="338.3" r="6.7" fill="#d9d97c"/>
<circle cx="605.4" cy="339.4" r="6.7" fill="#c5e88a"/>
<circle cx="601.6" cy="342.5" r="6.7" fill="#d9da7d"/>
<circle cx="600.6" cy="344.5" r="6.7" fill="#c9e687"/>
<circle cx="602.9" cy="349.1" r="6.7" fill="#d1e082"/>
<circle cx="605.1" cy="297.5" r="6.7" fill="#c6e789"/>
<circle cx="607.1" cy="302.5" r="6.7" fill="#d3de80"/>
<circle cx="605.2" cy="304.1" r="6.7" fill="#dbd87b"/>
<circle cx="606.0" cy="307.6" r="6.7" fill="#d0e082"/>
<circle cx="606.6" cy="310.3" r="6.7" fill="#d3de80"/>
<circle cx="599.0" cy="309.2" r="6.7" fill="#cde284"/>
<circle cx="599.9" cy="312.7" r="6.7" fill="#ddd67a"/>
<circle cx="598.1" cy="313.0" r="6.7" fill="#d4dd80"/>
<circle cx="599.1" cy="318.0" r="6.7" fill="#d9da7d"/>
<circle cx="598.3" cy="320.2" r="6.7" fill="#d8da7d"/>
<circle cx="599.1" cy="322.8" r="6.7" fill="#e2d276"/>
<circle cx="596.0" cy="324.0" r="6.7" fill="#d6db7e"/>
<circle cx="602.1" cy="328.2" r="6.7" fill="#e6ce74"/>
<circle cx="594.0" cy="328.9" r="6.7" fill="#d6db7e"/>
<circle cx="596.6" cy="331.6" r="6.7" fill="#d9d97c"/>
<circle cx="591.8" cy="331.8" r="6.7" fill="#ebc970"/>
<circle cx="592.3" cy="334.6" r="6.7" fill="#e7cc72"/>
<circle cx="593.1" cy="337.7" r="6.7" fill="#dfd478"/>
<circle cx="597.8" cy="341.5" r="6.7" fill="#eaca70"/>
<circle cx="590.6" cy="342.5" r="6.7" fill="#e9cb72"/>
<circle cx="593.7" cy="345.7" r="6.7" fill="#efc56d"/>
<circle cx="590.6" cy="347.1" r="6.7" fill="#f1c46c"/>
<circle cx="589.0" cy="349.3" r="6.7" fill="#e2d176"/>
<circle cx="587.1" cy="350.8" r="6.7" fill="#e5cf74"/>
<circle cx="593.6" cy="354.8" r="6.7" fill="#f4c069"/>
<circle cx="589.0" cy="356.1" r="6.7" fill="#eec66e"/>
<circle cx="598.4" cy="306.6" r="6.7" fill="#edc76f"/>
<circle cx="595.6" cy="305.6" r="6.7" fill="#f3c16a"/>
<circle cx="593.7" cy="308.3" r="6.7" fill="#f2c26b"/>
<circle cx="592.5" cy="310.2" r="6.7" fill="#f3c16a"/>
<circle cx="592.0" cy="310.6" r="6.7" fill="#fcb763"/>
<circle cx="597.2" cy="316.3" r="6.7" fill="#efc56d"/>
<circle cx="593.9" cy="316.6" r="6.7" fill="#ebc970"/>
<circle cx="595.7" cy="320.2" r="6.7" fill="#f5c069"/>
<circle cx="588.9" cy="319.0" r="6.7" fill="#f5bf69"/>
<circle cx="586.3" cy="319.6" r="6.7" fill="#ffb15f"/>
<circle cx="590.5" cy="325.6" r="6.7" fill="#f9bb66"/>
<circle cx="588.3" cy="326.1" r="6.7" fill="#f2c26b"/>
<circle cx="584.4" cy="326.3" r="6.7" fill="#ffb05f"/>
<circle cx="583.7" cy="329.3" r="6.7" fill="#ffac5c"/>
<circle cx="580.8" cy="330.1" r="6.7" fill="#ffa95b"/>
<circle cx="582.3" cy="332.2" r="6.7" fill="#ffac5c"/>
<circle cx="580.4" cy="334.6" r="6.7" fill="#ffaf5e"/>
<circle cx="583.2" cy="336.8" r="6.7" fill="#ffb361"/>
<circle cx="578.2" cy="337.6" r="6.7" fill="#ffb260"/>
<circle cx="576.8" cy="338.8" r="6.7" fill="#ffac5d"/>
<circle cx="578.1" cy="340.9" r="6.7" fill="#ffac5c"/>
<circle cx="579.5" cy="344.1" r="6.7" fill="#ffb361"/>
<circle cx="577.4" cy="345.4" r="6.7" fill="#ffaf5e"/>
<circle cx="575.6" cy="346.4" r="6.7" fill="#ff964f"/>
<circle cx="575.5" cy="350.6" r="6.7" fill="#ff934d"/>
<circle cx="576.7" cy="351.9" r="6.7" fill="#ffac5c"/>
<circle cx="597.1" cy="299.8" r="6.7" fill="#ffa457"/>
<circle cx="594.5" cy="301.5" r="6.7" fill="#ffa85a"/>
<circle cx="593.1" cy="304.3" r="6.7" fill="#ffa256"/>
<circle cx="593.3" cy="305.2" r="6.7" fill="#ffa457"/>
<circle cx="591.5" cy="308.3" r="6.7" fill="#ffa457"/>
<circle cx="590.6" cy="310.3" r="6.7" fill="#ff9a51"/>
<circle cx="588.3" cy="309.4" r="6.7" fill="#ff9850"/>
<circle cx="586.9" cy="310.6" r="6.7" fill="#ff9a52"/>
<circle cx="584.8" cy="312.2" r="6.7" fill="#ff8c49"/>
<circle cx="583.9" cy="314.2" r="6.7" fill="#ff9c53"/>
<circle cx="584.0" cy="317.7" r="6.7" fill="#ff8a48"/>
<circle cx="580.4" cy="318.4" r="6.7" fill="#ff9850"/>
<circle cx="580.0" cy="319.8" r="6.7" fill="#ff8a48"/>
<circle cx="579.7" cy="321.3" r="6.7" fill="#ff8847"/>
<circle cx="577.2" cy="321.7" r="6.7" fill="#ff8c49"/>
<circle cx="577.3" cy="325.2" r="6.7" fill="#ff8646"/>
<circle cx="574.4" cy="327.3" r="6.7" fill="#ff8847"/>
<circle cx="571.8" cy="326.2" r="6.7" fill="#ff8746"/>
<circle cx="572.6" cy="329.7" r="6.7" fill="#ff723a"/>
<circle cx="571.4" cy="331.8" r="6.7" fill="#ff6835"/>
<circle cx="568.4" cy="331.6" r="6.7" fill="#ff733b"/>
<circle cx="568.1" cy="335.7" r="6.7" fill="#ff753c"/>
<circle cx="566.9" cy="335.8" r="6.7" fill="#ff6131"/>
<circle cx="565.0" cy="337.5" r="6.7" fill="#ff6735"/>
<circle cx="562.4" cy="339.0" r="6.7" fill="#ff6533"/>
<circle cx="561.1" cy="340.2" r="6.7" fill="#ff6433"/>
<circle cx="562.9" cy="342.5" r="6.7" fill="#ff8847"/>
<circle cx="561.2" cy="345.7" r="6.7" fill="#ff8545"/>
<circle cx="559.2" cy="347.0" r="6.7" fill="#ff8947"/>
<circle cx="557.9" cy="348.8" r="6.7" fill="#ff8a48"/>
<circle cx="557.4" cy="350.4" r="6.7" fill="#ff6d38"/>
<circle cx="560.9" cy="353.5" r="6.7" fill="#ff723b"/>
<circle cx="556.9" cy="355.6" r="6.7" fill="#ff8143"/>
<circle cx="559.3" cy="359.0" r="6.7" fill="#ff743b"/>
<circle cx="556.6" cy="361.5" r="6.7" fill="#ff5e30"/>
<circle cx="555.4" cy="364.0" r="6.7" fill="#ff5a2e"/>
<circle cx="556.1" cy="365.0" r="6.7" fill="#ff6b37"/>
<circle cx="557.5" cy="368.9" r="6.7" fill="#ff532a"/>
<circle cx="553.1" cy="369.8" r="6.7" fill="#ff4e28"/>
<circle cx="554.7" cy="374.0" r="6.7" fill="#ff4b26"/>
<circle cx="563.9" cy="346.1" r="6.7" fill="#ff6d38"/>
<circle cx="560.3" cy="346.7" r="6.7" fill="#ff7a3f"/>
<circle cx="560.5" cy="347.7" r="6.7" fill="#ff6433"/>
<circle cx="561.2" cy="350.7" r="6.7" fill="#ff6b37"/>
<circle cx="557.1" cy="351.7" r="6.7" fill="#ff6d38"/>
<circle cx="562.1" cy="355.2" r="6.7" fill="#ff5f31"/>
<circle cx="559.3" cy="357.3" r="6.7" fill="#ff6634"/>
<circle cx="556.2" cy="358.5" r="6.7" fill="#ff562c"/>
<circle cx="557.4" cy="361.5" r="6.7" fill="#ff6534"/>
<circle cx="558.2" cy="363.6" r="6.7" fill="#ff4f28"/>
<circle cx="554.7" cy="363.5" r="6.7" fill="#ff6433"/>
<circle cx="558.1" cy="367.9" r="6.7" fill="#ff6232"/>
<circle cx="550.1" cy="368.7" r="6.7" fill="#ff5e30"/>
<circle cx="557.1" cy="371.8" r="6.7" fill="#ff6031"/>
<circle cx="547.5" cy="370.6" r="6.7" fill="#ff572c"/>
<circle cx="555.6" cy="375.4" r="6.7" fill="#ff5b2e"/>
<circle cx="548.1" cy="377.0" r="6.7" fill="#ff3b1e"/>
<circle cx="547.2" cy="378.6" r="6.7" fill="#ff4f28"/>
<circle cx="551.8" cy="380.8" r="6.7" fill="#ff552b"/>
<circle cx="546.9" cy="381.5" r="6.7" fill="#ff4322"/>
<circle cx="550.4" cy="384.4" r="6.7" fill="#ff341a"/>
<circle cx="545.1" cy="386.9" r="6.7" fill="#ff331a"/>
<circle cx="546.1" cy="389.6" r="6.7" fill="#ff3c1e"/>
<circle cx="548.3" cy="391.8" r="6.7" fill="#ff4623"/>
<circle cx="541.4" cy="364.5" r="6.7" fill="#ff532a"/>
<circle cx="543.4" cy="366.5" r="6.7" fill="#ff4925"/>
<circle cx="539.8" cy="368.3" r="6.7" fill="#ff351b"/>
<circle cx="538.2" cy="369.0" r="6.7" fill="#ff4523"/>
<circle cx="541.1" cy="370.9" r="6.7" fill="#ff391d"/>
<circle cx="535.0" cy="371.3" r="6.7" fill="#ff4221"/>
<circle cx="543.8" cy="374.6" r="6.7" fill="#ff371c"/>
<circle cx="543.3" cy="376.1" r="6.7" fill="#ff3f20"/>
<circle cx="540.6" cy="376.8" r="6.7" fill="#ff3018"/>
<circle cx="539.1" cy="378.4" r="6.7" fill="#ff2b16"/>
<circle cx="531.5" cy="377.0" r="6.7" fill="#ff3f20"/>
<circle cx="533.3" cy="379.7" r="6.7" fill="#ff2714"/>
<circle cx="531.0" cy="380.4" r="6.7" fill="#ff2914"/>
<circle cx="539.5" cy="385.0" r="6.7" fill="#ff361b"/>
<circle cx="533.8" cy="384.4" r="6.7" fill="#ff371c"/>
<circle cx="535.5" cy="387.0" r="6.7" fill="#ff2814"/>
<circle cx="529.5" cy="386.3" r="6.7" fill="#ff2c16"/>
<circle cx="531.7" cy="388.6" r="6.7" fill="#ff1e0f"/>
<circle cx="535.1" cy="390.9" r="6.7" fill="#ff2311"/>
<circle cx="530.3" cy="391.4" r="6.7" fill="#ff2c16"/>
<circle cx="530.9" cy="392.9" r="6.7" fill="#ff2814"/>
<circle cx="526.4" cy="392.4" r="6.7" fill="#ff2d16"/>
<circle cx="533.0" cy="396.8" r="6.7" fill="#ff2a15"/>
<circle cx="534.1" cy="398.4" r="6.7" fill="#ff1b0d"/>
<circle cx="534.3" cy="401.0" r="6.7" fill="#ff190d"/>
<circle cx="527.7" cy="400.1" r="6.7" fill="#ff2312"/>
<circle cx="530.9" cy="401.7" r="6.7" fill="#ff1e0f"/>
<circle cx="530.8" cy="403.2" r="6.7" fill="#ff2814"/>
<circle cx="531.5" cy="404.7" r="6.7" fill="#ff1f0f"/>
<circle cx="528.3" cy="405.6" r="6.7" fill="#ff1f10"/>
<circle cx="523.8" cy="406.0" r="6.7" fill="#ff190d"/>
<circle cx="527.7" cy="407.1" r="6.7" fill="#ff170b"/>
<circle cx="525.8" cy="408.4" r="6.7" fill="#ff1d0f"/>
<circle cx="526.1" cy="410.0" r="6.7" fill="#ff0e07"/>
<circle cx="524.9" cy="411.5" r="6.7" fill="#ff0904"/>
<circle cx="528.9" cy="413.3" r="6.7" fill="#ff0a05"/>
<circle cx="530.2" cy="414.7" r="6.7" fill="#ff0201"/>
<circle cx="526.3" cy="414.6" r="6.7" fill="#ff0804"/>
<circle cx="523.5" cy="416.0" r="6.7" fill="#ff0503"/>
<circle cx="526.0" cy="418.0" r="6.7" fill="#ff0000"/>
<circle cx="527.0" cy="419.3" r="6.7" fill="#ff180c"/>
<circle cx="528.9" cy="420.5" r="6.7" fill="#ff1309"/>
<circle cx="525.9" cy="422.0" r="6.7" fill="#ff1008"/>
<circle cx="528.9" cy="423.4" r="6.7" fill="#ff160b"/>
<circle cx="525.3" cy="425.2" r="6.7" fill="#ff0301"/>
<circle cx="524.7" cy="427.1" r="6.7" fill="#ff1e0f"/>
<circle cx="524.3" cy="428.1" r="6.7" fill="#ff0000"/>
<circle cx="528.6" cy="429.4" r="6.7" fill="#ff0000"/>
<circle cx="526.5" cy="431.0" r="6.7" fill="#ff0000"/>
<circle cx="526.5" cy="433.0" r="6.7" fill="#ff0000"/>
<circle cx="419.2" cy="621.4" r="6.7" fill="#6628fe"/>
<circle cx="418.8" cy="606.9" r="6.7" fill="#6628fe"/>
<circle cx="422.5" cy="589.1" r="6.7" fill="#6628fe"/>
<circle cx="417.8" cy="599.3" r="6.7" fill="#7e03ff"/>
<circle cx="438.4" cy="605.4" r="6.7" fill="#4c4ffc"/>
<circle cx="439.1" cy="615.6" r="6.7" fill="#4c4ffc"/>
<circle cx="435.5" cy="621.4" r="6.7" fill="#4c4ffc"/>
<circle cx="432.6" cy="615.2" r="6.7" fill="#4c4ffc"/>
<circle cx="435.1" cy="601.4" r="6.7" fill="#4c4ffc"/>
<circle cx="462.9" cy="604.9" r="6.7" fill="#2b7ff6"/>
<circle cx="459.0" cy="612.7" r="6.7" fill="#2b7ff6"/>
<circle cx="457.6" cy="628.2" r="6.7" fill="#2b7ff6"/>
<circle cx="455.1" cy="638.9" r="6.7" fill="#2b7ff6"/>
<circle cx="493.0" cy="605.8" r="6.7" fill="#11a0f0"/>
<circle cx="490.0" cy="613.6" r="6.7" fill="#11a0f0"/>
<circle cx="486.4" cy="625.8" r="6.7" fill="#11a0f0"/>
<circle cx="486.4" cy="639.7" r="6.7" fill="#11a0f0"/>
<circle cx="519.1" cy="605.2" r="6.7" fill="#0ec3e7"/>
<circle cx="519.7" cy="615.5" r="6.7" fill="#0ec3e7"/>
<circle cx="513.0" cy="633.6" r="6.7" fill="#0ec3e7"/>
<circle cx="547.6" cy="577.3" r="6.7" fill="#28dbde"/>
<circle cx="549.5" cy="588.0" r="6.7" fill="#28dbde"/>
<circle cx="545.2" cy="579.7" r="6.7" fill="#28dbde"/>
<circle cx="547.5" cy="597.0" r="6.7" fill="#28dbde"/>
<circle cx="544.5" cy="606.4" r="6.7" fill="#28dbde"/>
<circle cx="539.7" cy="600.3" r="6.7" fill="#28dbde"/>
<circle cx="542.7" cy="594.8" r="6.7" fill="#28dbde"/>
<circle cx="543.9" cy="585.2" r="6.7" fill="#28dbde"/>
<circle cx="561.9" cy="572.8" r="6.7" fill="#3be9d6"/>
<circle cx="559.7" cy="565.5" r="6.7" fill="#3be9d6"/>
<circle cx="562.6" cy="555.4" r="6.7" fill="#41ecd3"/>
<circle cx="561.2" cy="543.8" r="6.7" fill="#41ecd3"/>
<circle cx="569.9" cy="525.7" r="6.7" fill="#47f0d1"/>
<circle cx="568.4" cy="534.3" r="6.7" fill="#47f0d1"/>
<circle cx="575.7" cy="512.6" r="6.7" fill="#5ef9c6"/>
<circle cx="574.2" cy="506.1" r="6.7" fill="#60fac5"/>
<circle cx="580.7" cy="498.1" r="6.7" fill="#63fbc3"/>
<circle cx="582.9" cy="485.8" r="6.7" fill="#63fbc3"/>
<circle cx="581.0" cy="497.0" r="6.7" fill="#63fbc3"/>
<circle cx="581.8" cy="485.1" r="6.7" fill="#66fcc2"/>
<circle cx="583.5" cy="477.5" r="6.7" fill="#69fdc0"/>
<circle cx="584.4" cy="464.4" r="6.7" fill="#77ffb9"/>
<circle cx="589.0" cy="450.4" r="6.7" fill="#80ffb4"/>
<circle cx="592.4" cy="433.4" r="6.7" fill="#80ffb4"/>
<circle cx="591.8" cy="392.9" r="6.7" fill="#a4f89f"/>
<circle cx="598.6" cy="404.8" r="6.7" fill="#80ffb4"/>
<circle cx="596.5" cy="412.0" r="6.7" fill="#80ffb4"/>
<circle cx="595.6" cy="418.3" r="6.7" fill="#80ffb4"/>
<circle cx="601.6" cy="385.7" r="6.7" fill="#85ffb1"/>
<circle cx="603.2" cy="379.3" r="6.7" fill="#80ffb4"/>
<circle cx="600.9" cy="371.5" r="6.7" fill="#a4f89f"/>
<circle cx="604.3" cy="362.3" r="6.7" fill="#9cfba4"/>
<circle cx="611.8" cy="323.6" r="6.7" fill="#90feab"/>
<circle cx="611.5" cy="322.7" r="6.7" fill="#b2f396"/>
<circle cx="615.2" cy="310.3" r="6.7" fill="#90feab"/>
<circle cx="599.5" cy="345.4" r="6.7" fill="#b8f092"/>
<circle cx="603.8" cy="335.7" r="6.7" fill="#a7f79d"/>
<circle cx="607.2" cy="343.0" r="6.7" fill="#90feab"/>
<circle cx="611.6" cy="279.6" r="6.7" fill="#ebc970"/>
<circle cx="618.8" cy="272.4" r="6.7" fill="#cfe183"/>
<circle cx="617.5" cy="279.2" r="6.7" fill="#cfe183"/>
<circle cx="617.1" cy="291.9" r="6.7" fill="#b2f396"/>
<circle cx="609.4" cy="306.7" r="6.7" fill="#cce385"/>
<circle cx="603.1" cy="302.5" r="6.7" fill="#ebc970"/>
<circle cx="605.2" cy="295.3" r="6.7" fill="#ebc970"/>
<circle cx="595.4" cy="297.4" r="6.7" fill="#ffa055"/>
<circle cx="590.8" cy="302.5" r="6.7" fill="#ffa457"/>
<circle cx="591.2" cy="309.3" r="6.7" fill="#ff9d53"/>
<circle cx="596.3" cy="309.3" r="6.7" fill="#f6be68"/>
<circle cx="602.9" cy="322.7" r="6.7" fill="#cce385"/>
<circle cx="605.5" cy="314.2" r="6.7" fill="#cfe183"/>
<circle cx="591.7" cy="326.1" r="6.7" fill="#ebc970"/>
<circle cx="595.1" cy="317.6" r="6.7" fill="#ebc970"/>
<circle cx="582.7" cy="314.4" r="6.7" fill="#ff9951"/>
<circle cx="580.6" cy="313.5" r="6.7" fill="#ffa055"/>
<circle cx="572.5" cy="317.8" r="6.7" fill="#ff7f42"/>
<circle cx="571.0" cy="326.1" r="6.7" fill="#ff7f42"/>
<circle cx="579.7" cy="331.9" r="6.7" fill="#ffa055"/>
<circle cx="593.2" cy="338.2" r="6.7" fill="#d7db7e"/>
<circle cx="590.8" cy="350.2" r="6.7" fill="#cfe183"/>
<circle cx="587.4" cy="357.0" r="6.7" fill="#e0d378"/>
<circle cx="578.2" cy="358.7" r="6.7" fill="#f1c36c"/>
<circle cx="573.9" cy="347.5" r="6.7" fill="#ffa759"/>
<circle cx="555.1" cy="336.9" r="6.7" fill="#ff6031"/>
<circle cx="567.3" cy="327.3" r="6.7" fill="#ff8344"/>
<circle cx="578.9" cy="332.5" r="6.7" fill="#ffa055"/>
<circle cx="559.5" cy="343.2" r="6.7" fill="#ff5a2e"/>
<circle cx="561.9" cy="365.5" r="6.7" fill="#ff7f42"/>
<circle cx="557.9" cy="358.2" r="6.7" fill="#ff8746"/>
<circle cx="553.8" cy="372.8" r="6.7" fill="#ff8746"/>
<circle cx="532.4" cy="372.2" r="6.7" fill="#ff572c"/>
<circle cx="528.3" cy="381.4" r="6.7" fill="#ff4f28"/>
<circle cx="524.9" cy="392.9" r="6.7" fill="#ff3e1f"/>
<circle cx="550.5" cy="389.4" r="6.7" fill="#ff783e"/>
<circle cx="538.2" cy="403.2" r="6.7" fill="#ff1209"/>
<circle cx="519.5" cy="417.5" r="6.7" fill="#ff351b"/>
<circle cx="532.5" cy="421.0" r="6.7" fill="#ff2c16"/>
<circle cx="543.1" cy="360.6" r="6.7" fill="#ff4f28"/>
<circle cx="535.3" cy="378.0" r="6.7" fill="#ff4623"/>
<circle cx="544.7" cy="370.0" r="6.7" fill="#ff1209"/>
<circle cx="536.5" cy="366.2" r="6.7" fill="#ff0c06"/>
<circle cx="546.8" cy="382.2" r="6.7" fill="#ff5a2e"/>
<circle cx="536.8" cy="387.4" r="6.7" fill="#ff0d07"/>
<circle cx="523.0" cy="398.6" r="6.7" fill="#ff1209"/>
<circle cx="521.2" cy="403.2" r="6.7" fill="#ff1b0d"/>
<circle cx="528.7" cy="411.2" r="6.7" fill="#ff1209"/>
<circle cx="530.6" cy="402.1" r="6.7" fill="#ff351b"/>
<circle cx="521.8" cy="408.9" r="6.7" fill="#ff0d07"/>
<circle cx="522.4" cy="426.2" r="6.7" fill="#ff1b0d"/>
<circle cx="524.1" cy="418.7" r="6.7" fill="#ff0d07"/>
<circle cx="531.0" cy="424.5" r="6.7" fill="#ff2c16"/>
<circle cx="530.4" cy="434.0" r="6.7" fill="#ff0d07"/>
<circle cx="512.3" cy="440.4" r="6.7" fill="#ff0904"/>
</g>
<g class="grid">
<line x1="98.0" y1="88.8" x2="98.0" y2="744.6"/>
<line x1="208.9" y1="88.8" x2="208.9" y2="744.6"/>
<line x1="319.9" y1="88.8" x2="319.9" y2="744.6"/>
<line x1="75.8" y1="613.4" x2="342.1" y2="613.4"/>
<line x1="75.8" y1="482.3" x2="342.1" y2="482.3"/>
<line x1="75.8" y1="351.1" x2="342.1" y2="351.1"/>
<line x1="75.8" y1="220.0" x2="342.1" y2="220.0"/>
<line x1="418.0" y1="88.8" x2="418.0" y2="744.6"/>
<line x1="529.0" y1="88.8" x2="529.0" y2="744.6"/>
<line x1="639.9" y1="88.8" x2="639.9" y2="744.6"/>
<line x1="395.8" y1="613.4" x2="662.1" y2="613.4"/>
<line x1="395.8" y1="482.3" x2="662.1" y2="482.3"/>
<line x1="395.8" y1="351.1" x2="662.1" y2="351.1"/>
<line x1="395.8" y1="220.0" x2="662.1" y2="220.0"/>
</g>
<g class="tk">
<line x1="98.0" y1="744.6" x2="98.0" y2="751.3"/>
<line x1="208.9" y1="744.6" x2="208.9" y2="751.3"/>
<line x1="319.9" y1="744.6" x2="319.9" y2="751.3"/>
<line x1="68.8" y1="744.6" x2="75.8" y2="744.6"/>
<line x1="68.8" y1="613.4" x2="75.8" y2="613.4"/>
<line x1="68.8" y1="482.3" x2="75.8" y2="482.3"/>
<line x1="68.8" y1="351.1" x2="75.8" y2="351.1"/>
<line x1="68.8" y1="220.0" x2="75.8" y2="220.0"/>
<line x1="68.8" y1="88.8" x2="75.8" y2="88.8"/>
<line x1="418.0" y1="744.6" x2="418.0" y2="751.3"/>
<line x1="529.0" y1="744.6" x2="529.0" y2="751.3"/>
<line x1="639.9" y1="744.6" x2="639.9" y2="751.3"/>
<line x1="388.8" y1="744.6" x2="395.8" y2="744.6"/>
<line x1="388.8" y1="613.4" x2="395.8" y2="613.4"/>
<line x1="388.8" y1="482.3" x2="395.8" y2="482.3"/>
<line x1="388.8" y1="351.1" x2="395.8" y2="351.1"/>
<line x1="388.8" y1="220.0" x2="395.8" y2="220.0"/>
<line x1="388.8" y1="88.8" x2="395.8" y2="88.8"/>
<line x1="731.1" y1="655.3" x2="737.1" y2="655.3"/>
<line x1="731.1" y1="587.7" x2="737.1" y2="587.7"/>
<line x1="731.1" y1="520.2" x2="737.1" y2="520.2"/>
<line x1="731.1" y1="452.6" x2="737.1" y2="452.6"/>
<line x1="731.1" y1="385.0" x2="737.1" y2="385.0"/>
<line x1="731.1" y1="317.4" x2="737.1" y2="317.4"/>
<line x1="731.1" y1="249.9" x2="737.1" y2="249.9"/>
<line x1="731.1" y1="182.3" x2="737.1" y2="182.3"/>
</g>
<rect class="sp" x="75.8" y="88.8" width="266.3" height="655.8"/>
<rect class="sp" x="395.8" y="88.8" width="266.3" height="655.8"/>
<rect x="705.0" y="114.7" width="26.1" height="608.2" fill="url(#cb)" stroke="#000" stroke-width="1.6"/>
<g class="t24">
<text transform="translate(98.3,773.1) scale(1.02,1.06)" text-anchor="middle">0.0</text>
<text transform="translate(209.2,773.1) scale(1.02,1.06)" text-anchor="middle">0.5</text>
<text transform="translate(320.2,773.1) scale(1.02,1.06)" text-anchor="middle">1.0</text>
<text transform="translate(64.1,753.0) scale(1.02,1.06)" text-anchor="end">0.2</text>
<text transform="translate(64.1,621.8) scale(1.02,1.06)" text-anchor="end">0.4</text>
<text transform="translate(64.1,490.7) scale(1.02,1.06)" text-anchor="end">0.6</text>
<text transform="translate(64.1,359.5) scale(1.02,1.06)" text-anchor="end">0.8</text>
<text transform="translate(64.1,228.4) scale(1.02,1.06)" text-anchor="end">1.0</text>
<text transform="translate(64.1,97.2) scale(1.02,1.06)" text-anchor="end">1.2</text>
<text transform="translate(418.3,773.1) scale(1.02,1.06)" text-anchor="middle">0.0</text>
<text transform="translate(529.2,773.1) scale(1.02,1.06)" text-anchor="middle">0.5</text>
<text transform="translate(640.2,773.1) scale(1.02,1.06)" text-anchor="middle">1.0</text>
<text transform="translate(743.0,663.6) scale(1.02,1.06)">10</text>
<text transform="translate(743.0,596.0) scale(1.02,1.06)">20</text>
<text transform="translate(743.0,528.5) scale(1.02,1.06)">30</text>
<text transform="translate(743.0,460.9) scale(1.02,1.06)">40</text>
<text transform="translate(743.0,393.3) scale(1.02,1.06)">50</text>
<text transform="translate(743.0,325.7) scale(1.02,1.06)">60</text>
<text transform="translate(743.0,258.2) scale(1.02,1.06)">70</text>
<text transform="translate(743.0,190.6) scale(1.02,1.06)">80</text>
<text x="284.0" y="119.6">(a)</text>
<text x="604.6" y="119.6">(b)</text>
<text x="402.6" y="822.9" text-anchor="middle" font-size="24.2">Sideband Ratio a3/(a0+a3)</text>
<text transform="translate(16.7,420.5) rotate(-90)" text-anchor="middle">Sideband Ratio a2/(a0+a2)</text>
<text x="220.9" y="16.2">Phase Diagram for Different</text>
<text x="501.1" y="16.2" font-style="italic">θ</text>
<text x="516.9" y="16.2">,</text>
<text x="526.0" y="16.2" font-style="italic">ϕ</text>
<text transform="translate(546.2,16.7) scale(1.33,1)">=</text>
<text x="569.0" y="16.2">0</text>
<text x="812.6" y="424.3" font-style="italic">θ</text>
</g>
<g class="t28" text-anchor="middle">
<text x="208.9" y="48.5">Theoretical</text>
<text x="208.9" y="78.4">Analysis</text>
<text x="528.8" y="48.5">Experimental</text>
<text x="528.8" y="78.7">Analaysis</text>
</g>
</svg>
</body></html>
